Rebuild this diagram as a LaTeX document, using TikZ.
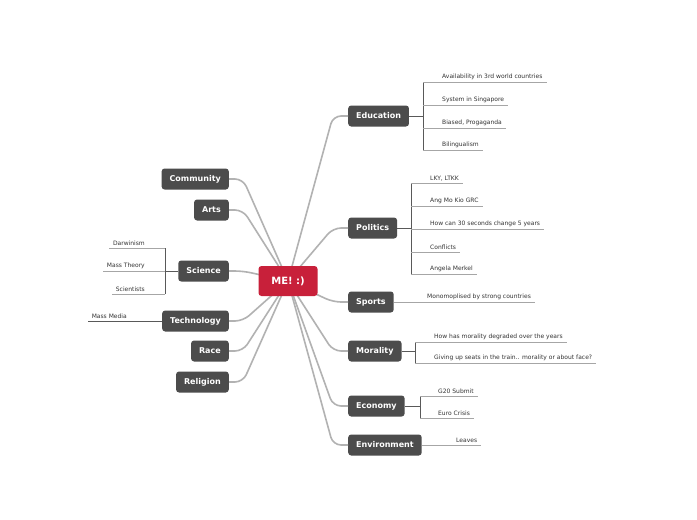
\documentclass[tikz,border=0pt]{standalone}
\usepackage{fontspec}
\setmainfont{DejaVu Sans}
\definecolor{mered}{HTML}{C8203A}
\begin{document}
\begin{tikzpicture}[x=1pt,y=-1pt,
  topic/.style={fill=black!70,rounded corners=3pt,text=white,font=\bfseries\fontsize{8}{9}\selectfont,minimum height=21pt,inner xsep=8pt},
  root/.style={fill=mered,rounded corners=3pt,text=white,font=\bfseries\fontsize{10}{11}\selectfont,minimum height=30pt,minimum width=59pt},
  leaf/.style={font=\fontsize{6}{7}\selectfont,text=black!80,inner ysep=2pt,inner xsep=4pt,anchor=south west},
  lleaf/.style={font=\fontsize{6}{7}\selectfont,text=black!80,inner ysep=2pt,inner xsep=4pt,anchor=south east},
  ul/.style={draw=black!35,line width=0.8pt},
  br/.style={draw=black!65,line width=0.8pt},
  main/.style={draw=black!30,line width=1.6pt,rounded corners=8pt}]
\useasboundingbox (0,0) rectangle (697,520);
\fill[white] (0,0) rectangle (697,520);
% main topics
\node[topic,anchor=west] (edu) at (348,116) {Education};
\node[topic,anchor=west] (pol) at (348,228) {Politics};
\node[topic,anchor=west] (spo) at (348,302) {Sports};
\node[topic,anchor=west] (mor) at (348,351) {Morality};
\node[topic,anchor=west] (eco) at (348,406) {Economy};
\node[topic,anchor=west] (env) at (348,445) {Environment};
\node[topic,anchor=east] (com) at (229,179) {Community};
\node[topic,anchor=east] (art) at (229,210) {Arts};
\node[topic,anchor=east] (sci) at (229,271) {Science};
\node[topic,anchor=east] (tec) at (229,321) {Technology};
\node[topic,anchor=east] (rac) at (229,351) {Race};
\node[topic,anchor=east] (rel) at (229,382) {Religion};
\coordinate (c) at (288,281);
\draw[main] (c) -- (333,116) -- (edu.west);
\draw[main] (c) -- (333,228) -- (pol.west);
\draw[main] (c) -- (333,302) -- (spo.west);
\draw[main] (c) -- (333,351) -- (mor.west);
\draw[main] (c) -- (333,406) -- (eco.west);
\draw[main] (c) -- (333,445) -- (env.west);
\draw[main] (c) -- (243,179) -- (com.east);
\draw[main] (c) -- (243,210) -- (art.east);
\draw[main] (c) -- (243,271) -- (sci.east);
\draw[main] (c) -- (243,321) -- (tec.east);
\draw[main] (c) -- (243,351) -- (rac.east);
\draw[main] (c) -- (243,382) -- (rel.east);
\node[root] (me) at (c) {ME! :)};
% Education
\draw[br] (edu.east) -- (423,116);
\draw[br] (423,82) -- (423,150);
\node[leaf] (e1) at (438,82) {Availability in 3rd world countries};
\node[leaf] (e2) at (438,105) {System in Singapore};
\node[leaf] (e3) at (438,128) {Biased, Progaganda};
\node[leaf] (e4) at (438,150) {Bilingualism};
\draw[ul] (423,82) -- (e1.south east);
\draw[ul] (423,105) -- (e2.south east);
\draw[ul] (423,128) -- (e3.south east);
\draw[ul] (423,150) -- (e4.south east);
% Politics
\draw[br] (pol.east) -- (411,228);
\draw[br] (411,183) -- (411,274);
\node[leaf] (p1) at (426,183) {LKY, LTKK};
\node[leaf] (p2) at (426,206) {Ang Mo Kio GRC};
\node[leaf] (p3) at (426,229) {How can 30 seconds change 5 years};
\node[leaf] (p4) at (426,252) {Conflicts};
\node[leaf] (p5) at (426,274) {Angela Merkel};
\draw[ul] (411,183) -- (p1.south east);
\draw[ul] (411,206) -- (p2.south east);
\draw[ul] (411,229) -- (p3.south east);
\draw[ul] (411,252) -- (p4.south east);
\draw[ul] (411,274) -- (p5.south east);
% Sports
\node[leaf] (s1) at (423,302) {Monomoplised by strong countries};
\draw[ul] (spo.east) -- (s1.south east);
% Morality
\draw[br] (mor.east) -- (415,351);
\draw[br] (415,342) -- (415,363);
\node[leaf] (m1) at (430,342) {How has morality degraded over the years};
\node[leaf] (m2) at (430,363) {Giving up seats in the train.. morality or about face?};
\draw[ul] (415,342) -- (m1.south east);
\draw[ul] (415,363) -- (m2.south east);
% Economy
\draw[br] (eco.east) -- (420,406);
\draw[br] (420,396) -- (420,418);
\node[leaf] (k1) at (434,396) {G20 Submit};
\node[leaf] (k2) at (434,418) {Euro Crisis};
\draw[ul] (420,396) -- (k1.south east);
\draw[ul] (420,418) -- (k2.south east);
% Environment
\node[leaf] (v1) at (452,445) {Leaves};
\draw[ul] (env.east) -- (v1.south east);
% Science
\draw[br] (sci.west) -- (165,271);
\draw[br] (165,248) -- (165,294);
\node[lleaf] (d1) at (149,248) {Darwinism};
\node[lleaf] (d2) at (149,271) {Mass Theory};
\node[lleaf] (d3) at (149,294) {Scientists};
\draw[ul] (165,248) -- (d1.south west);
\draw[ul] (165,271) -- (d2.south west);
\draw[ul] (165,294) -- (d3.south west);
% Technology
\node[lleaf] (t1) at (131,321) {Mass Media};
\draw[br] (tec.west) -- (t1.south west);
\end{tikzpicture}
\end{document}
